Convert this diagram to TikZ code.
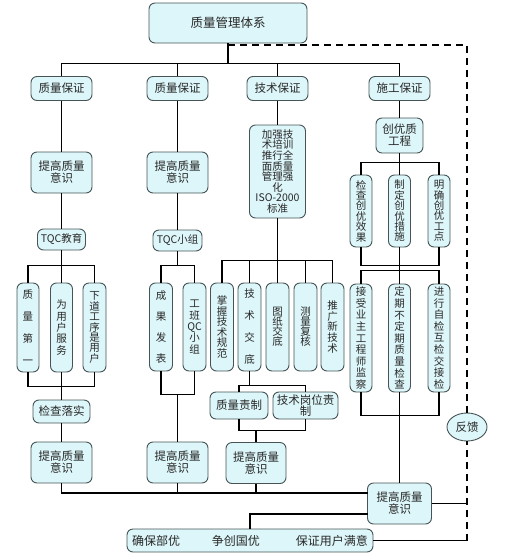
\documentclass[tikz,border=0pt]{standalone}
\usepackage{fontspec}
\newfontfamily\cjk{Noto Sans CJK SC}
\usetikzlibrary{shapes.geometric}
\definecolor{boxfill}{RGB}{221,246,249}
\definecolor{boxline}{RGB}{70,84,86}
\definecolor{txt}{RGB}{40,40,40}
\tikzset{
  bx/.style={draw=boxline, fill=boxfill, rounded corners=6pt, line width=0.9pt, inner sep=0pt,
    align=center, text=txt, font=\cjk\fontsize{11.5}{12}\selectfont},
  vb/.style={bx, font=\cjk\fontsize{10.5}{#1}\selectfont},
  ln/.style={line width=1.2pt, draw=black},
  dsh/.style={line width=1.5pt, draw=black, dash pattern=on 7pt off 5pt},
}
\begin{document}
\begin{tikzpicture}[x=1pt,y=-1pt]
\useasboundingbox (0,0) rectangle (523,558);
% top
\node[bx, minimum width=158pt, minimum height=40pt, font=\cjk\fontsize{12.5}{14}\selectfont] (top) at (228,23) {质量管理体系};
% second level
\node[bx, minimum width=61pt, minimum height=24pt] (qa1) at (61.5,88.5) {质量保证};
\node[bx, minimum width=61pt, minimum height=24pt] (qa2) at (177.5,88.5) {质量保证};
\node[bx, minimum width=61pt, minimum height=24pt] (ta) at (277.5,88.5) {技术保证};
\node[bx, minimum width=61pt, minimum height=24pt] (sa) at (399.5,88.5) {施工保证};
% column 1
\node[bx, minimum width=61pt, minimum height=41pt] (c1a) at (61.5,172.5) {提高质量\\意识};
\node[bx, minimum width=48pt, minimum height=21pt, font=\cjk\fontsize{10.5}{12}\selectfont] (c1b) at (61.5,239.5) {TQC教育};
\node[vb=22, minimum width=22pt, minimum height=89pt] (v11) at (28,327.5) {质\\量\\第\\一};
\node[vb=11.3, minimum width=22pt, minimum height=89pt] (v12) at (61.5,327.5) {为\\用\\户\\服\\务};
\node[vb=10.4, minimum width=23pt, minimum height=89pt] (v13) at (94.5,327.5) {下\\道\\工\\序\\是\\用\\户};
\node[bx, minimum width=57pt, minimum height=23pt] (jc) at (61.5,411.5) {检查落实};
\node[bx, minimum width=61pt, minimum height=41pt] (c1c) at (61.5,462.5) {提高质量\\意识};
% column 2
\node[bx, minimum width=61pt, minimum height=41pt] (c2a) at (177.5,172.5) {提高质量\\意识};
\node[bx, minimum width=49pt, minimum height=21pt, font=\cjk\fontsize{10.5}{12}\selectfont] (c2b) at (177.5,240.5) {TQC小组};
\node[vb=21, minimum width=23pt, minimum height=88pt] (v21) at (161,327) {成\\果\\发\\表};
\node[vb=11.3, minimum width=23pt, minimum height=88pt] (v22) at (194.5,327) {工\\班\\QC\\小\\组};
\node[bx, minimum width=61pt, minimum height=41pt] (c2c) at (177.5,462.5) {提高质量\\意识};
% column 3
\node[vb=10.6, minimum width=56pt, minimum height=93pt] (c3a) at (277.5,171.5) {加强技\\术培训\\推行全\\面质量\\管理强\\化\\ISO-2000\\标准};
\node[vb=10.6, minimum width=23pt, minimum height=88pt] (v31) at (222,327) {掌\\握\\技\\术\\规\\范};
\node[vb=22, minimum width=23pt, minimum height=88pt] (v32) at (249.5,327) {技\\术\\交\\底};
\node[vb=10, minimum width=23pt, minimum height=88pt] (v33) at (277.5,327) {图\\纸\\交\\底};
\node[vb=10, minimum width=23pt, minimum height=88pt] (v34) at (305.5,327) {测\\量\\复\\核};
\node[vb=10.8, minimum width=23pt, minimum height=88pt] (v35) at (332.5,327) {推\\广\\新\\技\\术};
\node[bx, minimum width=58pt, minimum height=27pt] (zz1) at (239,405.5) {质量责制};
\node[bx, minimum width=65pt, minimum height=27pt, font=\cjk\fontsize{11.5}{11}\selectfont] (zz2) at (305.5,405.5) {技术岗位责\\制};
\node[bx, minimum width=60pt, minimum height=41pt] (c3c) at (256,463) {提高质量\\意识};
% column 4
\node[bx, minimum width=47pt, minimum height=35pt] (cy) at (399.5,135.5) {创优质\\工程};
\node[vb=10.4, minimum width=22pt, minimum height=72pt] (w1) at (361,211) {检\\查\\创\\优\\效\\果};
\node[vb=10.4, minimum width=22pt, minimum height=72pt] (w2) at (399.5,211) {制\\定\\创\\优\\措\\施};
\node[vb=10.4, minimum width=22pt, minimum height=72pt] (w3) at (439,211) {明\\确\\创\\优\\工\\点};
\node[vb=11.6, minimum width=22pt, minimum height=108pt] (x1) at (361,338) {接\\受\\业\\主\\工\\程\\师\\监\\察};
\node[vb=11.6, minimum width=22pt, minimum height=108pt] (x2) at (399.5,338) {定\\期\\不\\定\\期\\质\\量\\检\\查};
\node[vb=11.6, minimum width=22pt, minimum height=108pt] (x3) at (439,338) {进\\行\\自\\检\\互\\检\\交\\接\\检};
% bottom
\node[bx, minimum width=64pt, minimum height=41pt] (final) at (399.5,503.5) {提高质量\\意识};
\node[bx, minimum width=246pt, minimum height=23pt, font=\cjk\fontsize{12}{13}\selectfont] (goal) at (250,540.5) {确保部优\hspace{32pt}争创国优\hspace{36pt}保证用户满意};
\node[bx, ellipse, minimum width=40pt, minimum height=28pt] (fb) at (467,427) {反馈};
% connectors top
\draw[ln] (top.south) -- +(0,20) -| (qa1.north);
\draw[ln] (top.south) -- +(0,20) -| (qa2.north);
\draw[ln] (top.south) -- +(0,20) -| (ta.north);
\draw[ln] (top.south) -- +(0,20) -| (sa.north);
% column 1
\draw[ln] (qa1) -- (c1a);
\draw[ln] (c1a) -- (c1b);
\draw[ln] (c1b.south) -- +(0,15) -| (v11.north);
\draw[ln] (c1b.south) -- +(0,15) -| (v13.north);
\draw[ln] (c1b) -- (v12);
\draw[ln] (v11.south) -- +(0,14) -| (jc.north);
\draw[ln] (v13.south) -- +(0,14) -| (jc.north);
\draw[ln] (v12) -- (jc);
\draw[ln] (jc) -- (c1c);
\coordinate (b1) at (367.5,493);
\draw[ln] (c1c.south) |- (b1);
\draw[ln] (c2c.south) -- (c2c.south |- b1);
\draw[ln] (c3c.south) -- (c3c.south |- b1);
% column 2
\draw[ln] (qa2) -- (c2a);
\draw[ln] (c2a) -- (c2b);
\draw[ln] (c2b.south) -- +(0,14) -| (v21.north);
\draw[ln] (c2b.south) -- +(0,14) -| (v22.north);
\draw[ln] (v21.south) -- +(0,23) -| (c2c.north);
\draw[ln] (v22.south) -- +(0,23) -| (c2c.north);
% column 3
\draw[ln] (ta) -- (c3a);
\foreach \n in {v31,v32,v33,v34,v35} \draw[ln] (c3a.south) -- +(0,42) -| (\n.north);
\draw[ln] (v32.south) -- +(0,14) -| (zz1.north);
\draw[ln] (v32.south) -- +(0,14) -| (zz2.north);
\draw[ln] (zz1.south) -- +(0,11) -| (c3c.north);
\draw[ln] (zz2.south) -- +(0,11) -| (c3c.north);
% column 4
\draw[ln] (sa) -- (cy);
\draw[ln] (cy.south) -- +(0,9) -| (w1.north);
\draw[ln] (cy.south) -- +(0,9) -| (w3.north);
\draw[ln] (cy) -- (w2);
\draw[ln] (w1.south) -- +(0,18) -| (w3.south);
\draw[ln] (w2) -- (x2);
\draw[ln] (x1.north) -- +(0,-13) -| (x3.north);
\draw[ln] (x1.south) -- +(0,23) -| (x3.south);
\draw[ln] (x2) -- (final);
% final and feedback
\coordinate (fr) at (467,503.5);
\draw[ln] (final.east) -- (fr);
\coordinate (b2) at (367.5,514);
\draw[ln] (b2) -| (goal.north);
\coordinate (gr) at (467,540.5);
\draw[ln] (goal.east) -- (gr);
\coordinate (tr) at (467,45);
\coordinate (tl) at (228,45);
\draw[dsh] (gr) -- (fb.south);
\draw[dsh] (fb.north) -- (tr) -- (tl);
\end{tikzpicture}
\end{document}
